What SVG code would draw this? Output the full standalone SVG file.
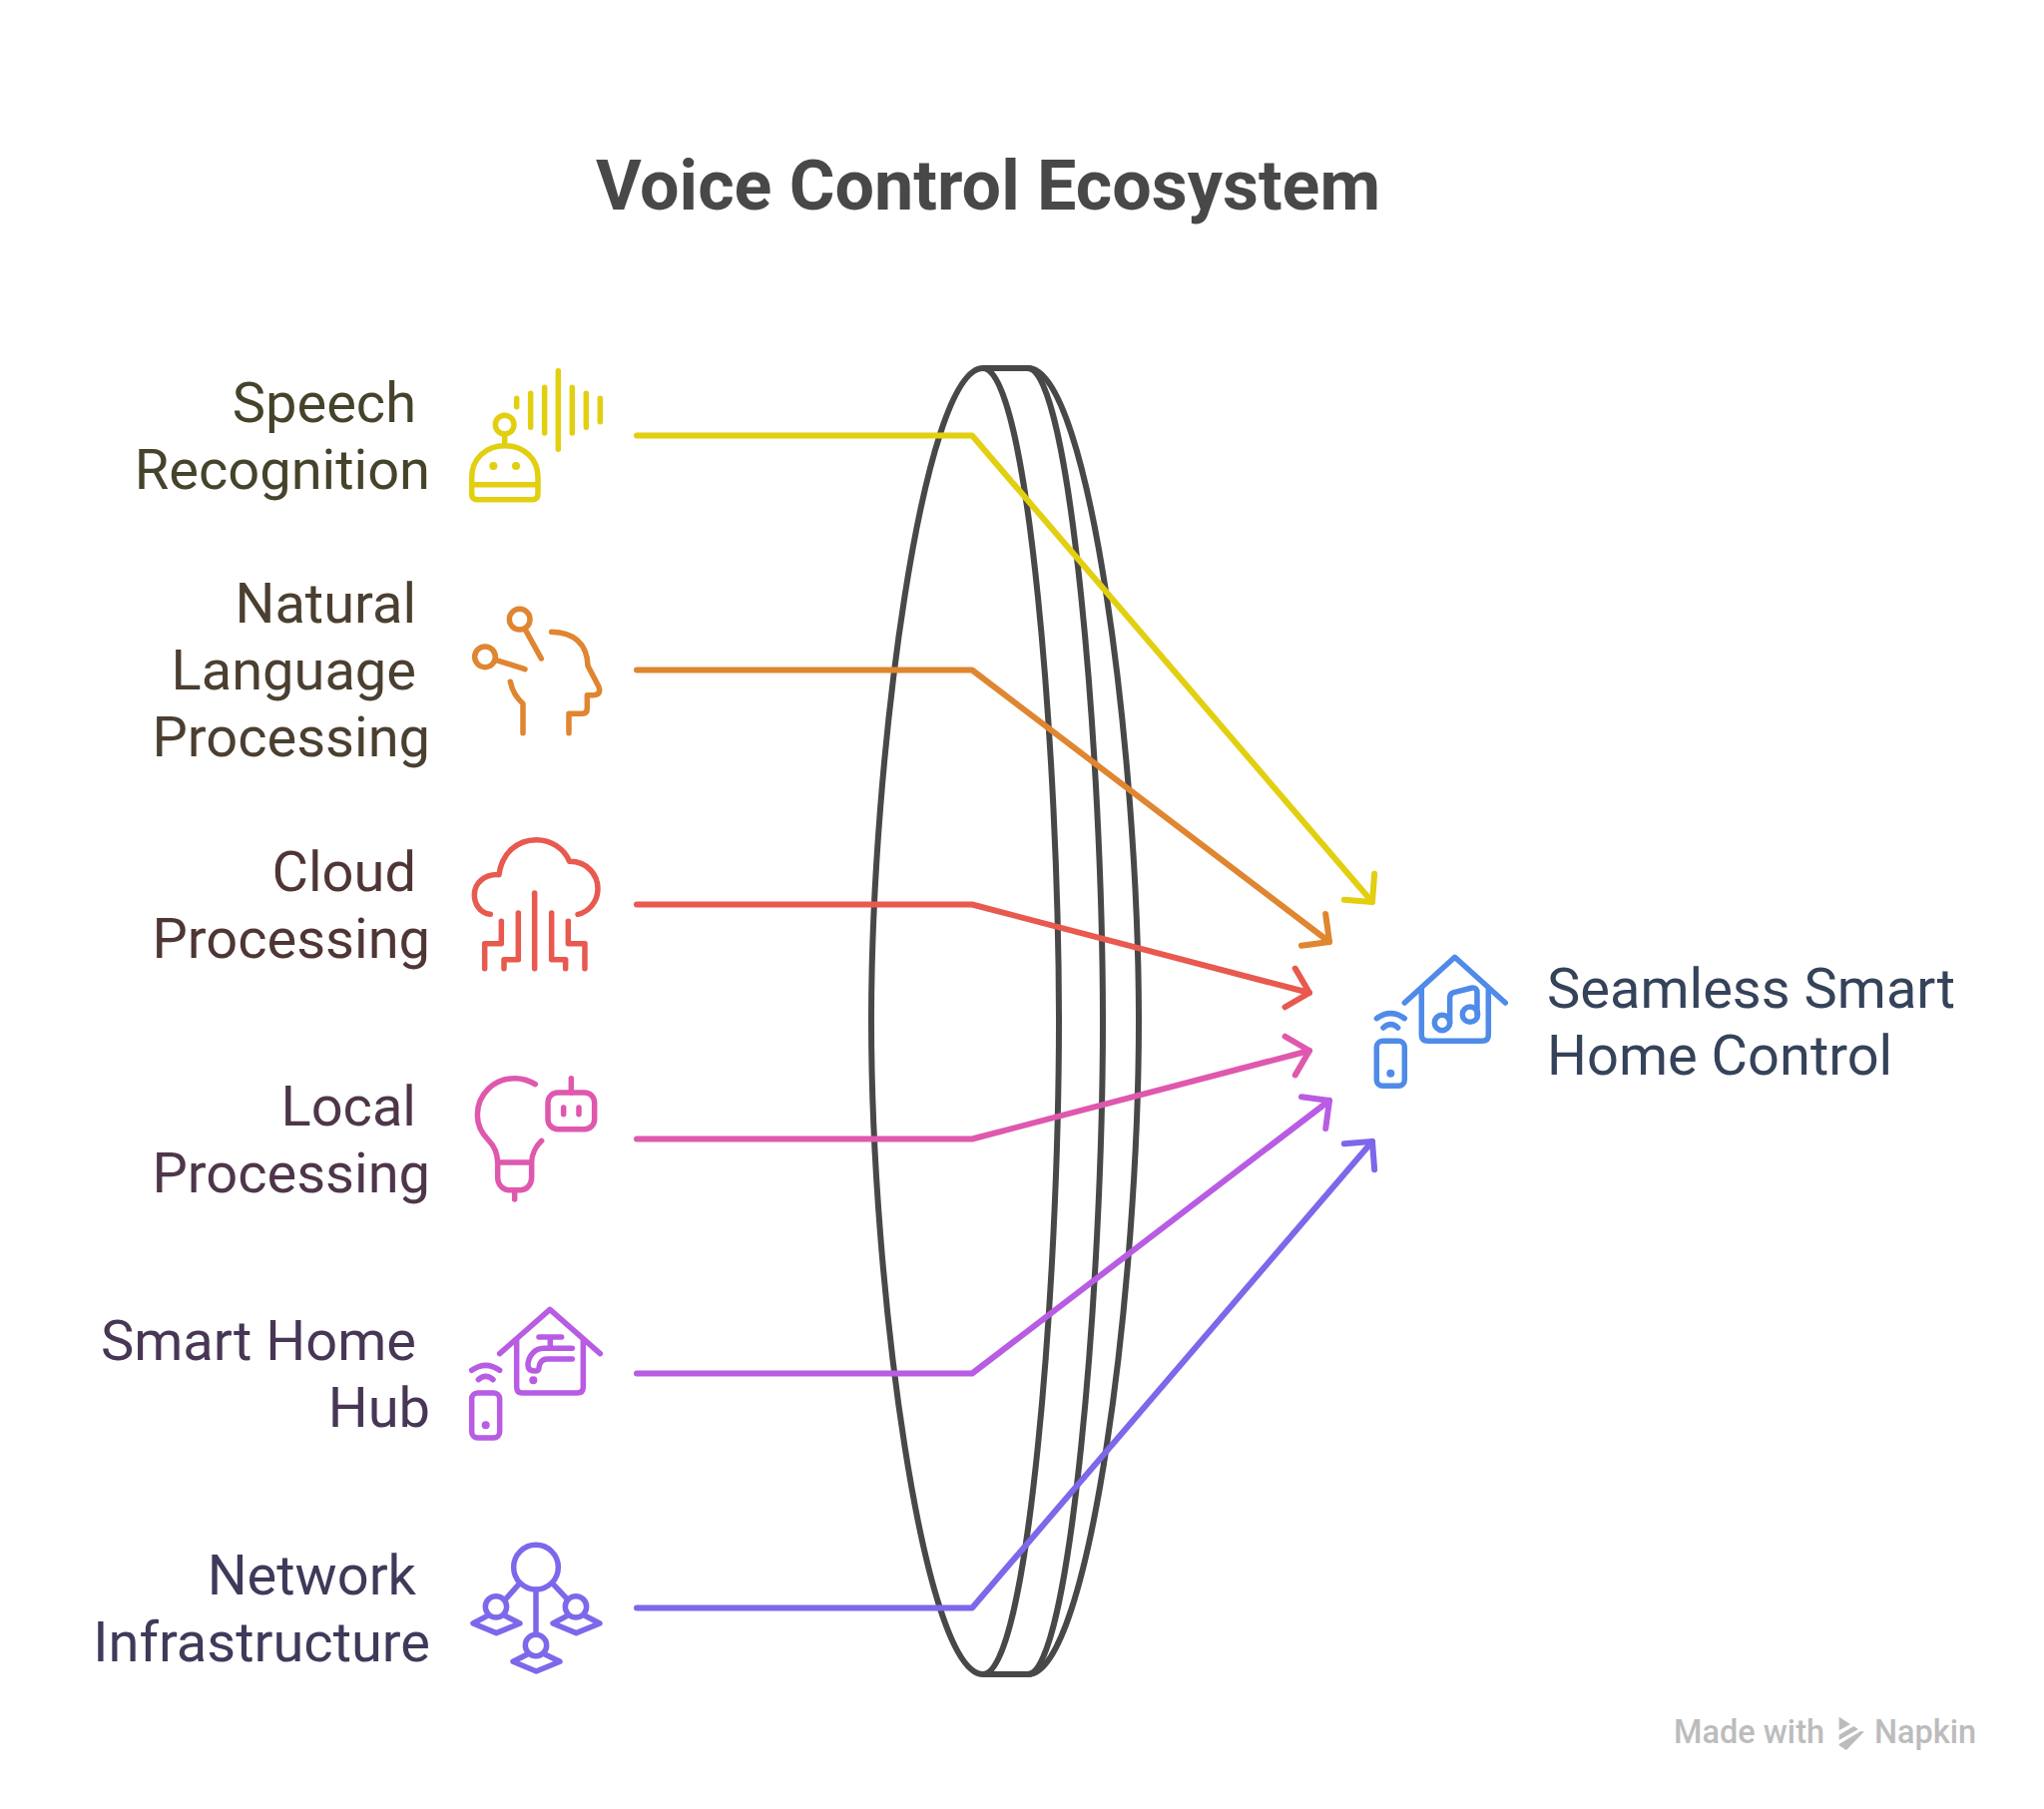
<svg xmlns="http://www.w3.org/2000/svg" width="2048" height="1813" viewBox="0 0 2048 1813">
<style>
text{font-family:Roboto,"Liberation Sans",sans-serif;font-size:56px}
.r{text-anchor:end}
.title{font-size:70px;font-weight:700;fill:#484848;text-anchor:middle}
.ic{fill:none;stroke-width:16.500;stroke-linecap:round;stroke-linejoin:round}
.ic .d{stroke:none}
.c{fill:none;stroke-width:6;stroke-linecap:round;stroke-linejoin:round}
.lens{fill:none;stroke:#484848;stroke-width:6}
.wm{font-size:32.500px;font-weight:500;fill:#bcbcbc}
.y{stroke:#E2CF10}.o{stroke:#E08530}.e{stroke:#E8594F}.p{stroke:#DF58AE}.u{stroke:#B85CE4}.v{stroke:#7E67EA}.b{stroke:#4F8BE8}
</style>
<defs>
<marker id="ay" markerUnits="userSpaceOnUse" markerWidth="60" markerHeight="60" refX="30" refY="30" orient="auto"><path d="M10 10L30 30L10 50" class="c y"/></marker>
<marker id="ao" markerUnits="userSpaceOnUse" markerWidth="60" markerHeight="60" refX="30" refY="30" orient="auto"><path d="M10 10L30 30L10 50" class="c o"/></marker>
<marker id="ae" markerUnits="userSpaceOnUse" markerWidth="60" markerHeight="60" refX="30" refY="30" orient="auto"><path d="M10 10L30 30L10 50" class="c e"/></marker>
<marker id="ap" markerUnits="userSpaceOnUse" markerWidth="60" markerHeight="60" refX="30" refY="30" orient="auto"><path d="M10 10L30 30L10 50" class="c p"/></marker>
<marker id="au" markerUnits="userSpaceOnUse" markerWidth="60" markerHeight="60" refX="30" refY="30" orient="auto"><path d="M10 10L30 30L10 50" class="c u"/></marker>
<marker id="av" markerUnits="userSpaceOnUse" markerWidth="60" markerHeight="60" refX="30" refY="30" orient="auto"><path d="M10 10L30 30L10 50" class="c v"/></marker>
</defs>
<rect width="2048" height="1813" fill="#fff"/>
<text class="title" x="990" y="210">Voice Control Ecosystem</text>

<g id="lens" class="lens">
<path d="M1030 369H985C925 369 873 760 873 1023.500C873 1287 925 1678 985 1678H1030"/>
<path d="M985 369C1030 369 1061 760 1061 1023.500C1061 1287 1030 1678 985 1678"/>
<path d="M1030 369C1072 369 1105 760 1105 1023.500C1105 1287 1072 1678 1030 1678"/>
<path d="M1030 369C1092 369 1141 760 1141 1023.500C1141 1287 1092 1678 1030 1678"/>
</g>

<g id="connectors">
<path class="c y" d="M638 436.500H974L1375 904" marker-end="url(#ay)"/>
<path class="c o" d="M638 671.500H974L1332 944" marker-end="url(#ao)"/>
<path class="c e" d="M638 906.500H974L1312 995" marker-end="url(#ae)"/>
<path class="c p" d="M638 1141.500H974L1312 1053" marker-end="url(#ap)"/>
<path class="c u" d="M638 1376.500H974L1332 1103" marker-end="url(#au)"/>
<path class="c v" d="M638 1611.500H974L1375 1144" marker-end="url(#av)"/>
</g>

<g id="speech">
<text class="r" x="417" y="423" fill="#46432B">Speech</text>
<text class="r" x="431" y="490" fill="#46432B">Recognition</text>
<g class="ic y" transform="translate(460 360) scale(.3333)">
<path d="M38 377V355C38 300 80 260 137 260C195 260 237 300 237 355V405Q237 422 220 422H55Q38 422 38 405ZM38 377H237M137 260V226"/>
<circle cx="137" cy="197" r="28"/>
<circle class="d" fill="#E2CF10" cx="103" cy="321" r="12"/><circle class="d" fill="#E2CF10" cx="171" cy="321" r="12"/>
<path d="M173 118V143M215 103V205M257 85V222M298 35V271M340 85V222M382 103V205M424 118V188"/>
</g>
</g>

<g id="nlp">
<text class="r" x="417" y="624" fill="#4A3F30">Natural</text>
<text class="r" x="417" y="691" fill="#4A3F30">Language</text>
<text class="r" x="431" y="758" fill="#4A3F30">Processing</text>
<g class="ic o" transform="translate(460 360) scale(.3333)">
<circle cx="182" cy="782" r="31"/><path d="M200 815L247 900"/>
<circle cx="78" cy="895" r="31"/><path d="M112 905L198 932"/>
<path d="M278 820C340 822 385 850 387 922L420 985Q428 1008 405 1010H385V1050Q385 1066 370 1066H330V1124"/>
<path d="M154 970C160 1000 172 1018 192 1036V1124"/>
</g>
</g>

<g id="cloud">
<text class="r" x="417" y="893" fill="#4F3635">Cloud</text>
<text class="r" x="431" y="960" fill="#4F3635">Processing</text>
<g class="ic e" transform="translate(460 820) scale(.3333)">
<path d="M94 289C60 285 46 255 46 230C46 195 75 168 120 170C128 105 175 65 232 65C275 65 315 90 332 130C385 130 417 170 417 212C417 250 390 282 357 289"/>
<path d="M227 225V452M178 285V425H135V452M127 310V377H77V452M278 285V425H320V452M328 310V377H378V452"/>
</g>
</g>

<g id="local">
<text class="r" x="417" y="1128" fill="#4E364A">Local</text>
<text class="r" x="431" y="1195" fill="#4E364A">Processing</text>
<g class="ic p" transform="translate(460 820) scale(.3333)">
<path d="M229 800C205 785 185 782 168 782C105 782 55 830 55 892C55 925 70 950 88 968C105 985 115 1005 116 1035V1080C116 1105 135 1118 150 1118H185C205 1118 218 1100 218 1080V1035C218 1010 232 985 248 970M116 1035H218M167 1118V1146"/>
<rect x="267" y="825" width="140" height="110" rx="30"/>
<path d="M337 782V825M314 870V890M360 870V890"/>
</g>
</g>

<g id="hub">
<text class="r" x="417" y="1363" fill="#473655">Smart Home</text>
<text class="r" x="431" y="1430" fill="#473655">Hub</text>
<g class="ic u" transform="translate(460 1300) scale(.3333)">
<path d="M122 170L273 37L424 170M173 125V270Q173 288 190 288H355Q373 288 373 270V125"/>
<path d="M240 120H308M274 120V150M340 154H255C225 154 207 180 207 205Q207 222 228 222Q240 222 240 212C240 198 250 186 265 186H340"/>
<circle class="d" fill="#B85CE4" cx="223" cy="250" r="12"/>
<rect x="38" y="288" width="84" height="135" rx="18"/>
<circle class="d" fill="#B85CE4" cx="80" cy="385" r="12"/>
<path d="M38 220Q80 190 122 220M58 248Q80 228 102 248"/>
</g>
</g>

<g id="network">
<text class="r" x="417" y="1598" fill="#3F3A5A">Network</text>
<text class="r" x="431" y="1665" fill="#3F3A5A">Infrastructure</text>
<g class="ic v" transform="translate(460 1300) scale(.3333)">
<circle cx="231" cy="812" r="67"/>
<path d="M231 880V1010M178 865L140 908M285 865L325 908"/>
<circle cx="111" cy="931" r="32"/><circle cx="351" cy="931" r="32"/><circle cx="231" cy="1047" r="32"/>
<path d="M85 958L42 981L112 1010L183 981L138 958M325 958L282 981L352 1010L423 981L378 958M205 1074L162 1096L232 1125L303 1096L258 1074"/>
</g>
</g>

<g id="control">
<text x="1550" y="1010" fill="#35435A">Seamless Smart</text>
<text x="1550" y="1077" fill="#35435A">Home Control</text>
<g class="ic b" transform="translate(1300 880) scale(.3333)">
<path d="M322 375L473 238L625 375M373 330V472Q373 490 392 490H555Q574 490 574 472V330"/>
<circle cx="435" cy="435" r="23"/><circle cx="519" cy="410" r="23"/>
<path d="M458 435V360Q458 347 470 344L525 330Q540 328 540 345V410"/>
<rect x="238" y="490" width="84" height="135" rx="18"/>
<circle class="d" fill="#4F8BE8" cx="280" cy="587" r="12"/>
<path d="M238 422Q280 392 322 422M258 450Q280 430 302 450"/>
</g>
</g>

<g id="watermark">
<text class="wm" x="1677" y="1747">Made with</text>
<g fill="#bcbcbc" transform="translate(1660 1700) scale(.3333)">
<path d="M548 62L582 84L548 103ZM548 116L592 90L606 99L548 132ZM548 144L612 106L624 106L570 162L548 148Z"/>
</g>
<text class="wm" x="1878" y="1747">Napkin</text>
</g>
</svg>
